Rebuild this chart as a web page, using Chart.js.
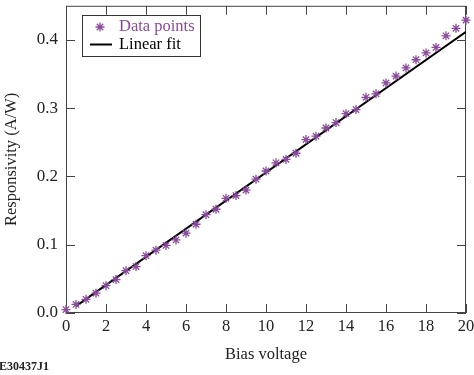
<!DOCTYPE html>
<html>
<head>
<meta charset="utf-8">
<script src="https://cdn.jsdelivr.net/npm/chart.js@4"></script>
<style>
  html, body { margin: 0; padding: 0; background: #fff; }
  #wrap { position: relative; width: 474px; height: 375px; }
  #code { position: absolute; left: -1px; top: 360px; font: bold 12px "Liberation Serif", serif; line-height: 12px; color: #222; }
</style>
</head>
<body>
<div id="wrap">
  <canvas id="chart" width="474" height="375"></canvas>
  <div id="code">E30437J1</div>
</div>
<script>
// measured points (bias voltage in V, responsivity in A/W)
const biasVoltage = [0, 0.5, 1, 1.5, 2, 2.5, 3, 3.5, 4, 4.5, 5, 5.5, 6, 6.5, 7, 7.5, 8, 8.5, 9, 9.5,
  10, 10.5, 11, 11.5, 12, 12.5, 13, 13.5, 14, 14.5, 15, 15.5, 16, 16.5, 17, 17.5, 18, 18.5, 19, 19.5, 20];
const responsivity = [0.005, 0.0125, 0.020, 0.029, 0.040, 0.049, 0.062, 0.068, 0.084, 0.092,
  0.099, 0.107, 0.117, 0.130, 0.144, 0.152, 0.168, 0.172, 0.180, 0.196,
  0.208, 0.220, 0.225, 0.234, 0.254, 0.259, 0.271, 0.279, 0.292, 0.298,
  0.316, 0.321, 0.337, 0.347, 0.359, 0.371, 0.381, 0.389, 0.406, 0.417, 0.429];

// linear fit end points
const fitVoltage = [0.5, 20];
const fitResponsivity = [0.010, 0.412];

const xTicks = [0, 2, 4, 6, 8, 10, 12, 14, 16, 18, 20];
const yTicks = [0, 0.1, 0.2, 0.3, 0.4];

const purple = "#8b4a9c";
const serif = "'Liberation Serif', 'Times New Roman', serif";

// box, inward ticks on all four sides, and the legend
const framePlugin = {
  id: "frame",
  beforeDatasetsDraw(chart) {
    const { ctx, chartArea: a, scales } = chart;
    ctx.save();
    ctx.strokeStyle = "#444";
    ctx.lineWidth = 1;
    ctx.strokeRect(a.left + 0.5, a.top + 0.5, a.right - a.left - 1, a.bottom - a.top - 1);
    ctx.beginPath();
    const len = 9;
    xTicks.forEach((v) => {
      const px = Math.round(scales.x.getPixelForValue(v)) + 0.5;
      ctx.moveTo(px, a.bottom); ctx.lineTo(px, a.bottom - len);
      ctx.moveTo(px, a.top); ctx.lineTo(px, a.top + len);
    });
    yTicks.forEach((v) => {
      const py = Math.round(scales.y.getPixelForValue(v)) + 0.5;
      ctx.moveTo(a.left, py); ctx.lineTo(a.left + len, py);
      ctx.moveTo(a.right, py); ctx.lineTo(a.right - len, py);
    });
    ctx.stroke();
    ctx.restore();
  },
  afterDatasetsDraw(chart) {
    const { ctx } = chart;
    const pts = chart.data.datasets[0];
    const fit = chart.data.datasets[1];
    ctx.save();
    ctx.fillStyle = "#fff";
    ctx.fillRect(83, 15, 118, 41);
    ctx.strokeStyle = "#333";
    ctx.lineWidth = 1;
    ctx.strokeRect(82.5, 15.5, 118, 41);
    ctx.strokeStyle = pts.borderColor;
    ctx.fillStyle = pts.borderColor;
    ctx.lineWidth = 1.3;
    Chart.helpers.drawPoint(ctx, { pointStyle: "star", radius: 4.5, borderWidth: 1.3 }, 100, 27);
    ctx.beginPath();
    ctx.strokeStyle = "#000";
    ctx.lineWidth = 2;
    ctx.moveTo(90, 44.5); ctx.lineTo(112, 44.5);
    ctx.stroke();
    ctx.font = "16.5px " + serif;
    ctx.textBaseline = "middle";
    ctx.fillStyle = purple;
    ctx.fillText(pts.label, 119, 27);
    ctx.fillStyle = "#000";
    ctx.fillText(fit.label, 119, 45);
    ctx.restore();
  },
};

const ctx = document.getElementById("chart");
new Chart(ctx, {
  type: "scatter",
  data: {
    datasets: [
      {
        label: "Data points",
        data: biasVoltage.map((v, i) => ({ x: v, y: responsivity[i] })),
        pointStyle: "star",
        pointRadius: 4.5,
        pointBorderWidth: 1.3,
        borderColor: purple,
        backgroundColor: purple,
        clip: false,
      },
      {
        label: "Linear fit",
        type: "line",
        data: fitVoltage.map((v, i) => ({ x: v, y: fitResponsivity[i] })),
        borderColor: "#000",
        borderWidth: 2,
        pointRadius: 0,
        fill: false,
      },
    ],
  },
  options: {
    responsive: false,
    animation: false,
    devicePixelRatio: 1,
    layout: { padding: { top: 0, right: 8, left: 0, bottom: 0 } },
    plugins: { legend: { display: false }, tooltip: { enabled: false } },
    scales: {
      x: {
        type: "linear",
        min: 0,
        max: 20,
        grid: { display: false, drawTicks: false },
        border: { display: false },
        afterBuildTicks: (s) => { s.ticks = xTicks.map((v) => ({ value: v })); },
        afterFit: (s) => { s.height = 62; s.paddingLeft = 0; s.paddingRight = 0; },
        ticks: { padding: 4, color: "#222", font: { family: serif, size: 16.5 }, maxRotation: 0 },
        title: {
          display: true,
          text: "Bias voltage",
          color: "#222",
          font: { family: serif, size: 16.5 },
          padding: { top: 0, bottom: 10 },
        },
      },
      y: {
        min: 0,
        max: 0.45,
        grid: { display: false, drawTicks: false },
        border: { display: false },
        afterBuildTicks: (s) => { s.ticks = yTicks.map((v) => ({ value: v })); },
        afterFit: (s) => { s.width = 66; s.paddingTop = 0; s.paddingBottom = 0; },
        ticks: {
          padding: 8,
          color: "#222",
          font: { family: serif, size: 17 },
          callback: (v) => v.toFixed(1),
        },
        title: {
          display: true,
          text: "Responsivity (A/W)",
          color: "#222",
          font: { family: serif, size: 16.5 },
          padding: { top: 2, bottom: 0 },
        },
      },
    },
  },
  plugins: [framePlugin],
});
</script>
</body>
</html>
